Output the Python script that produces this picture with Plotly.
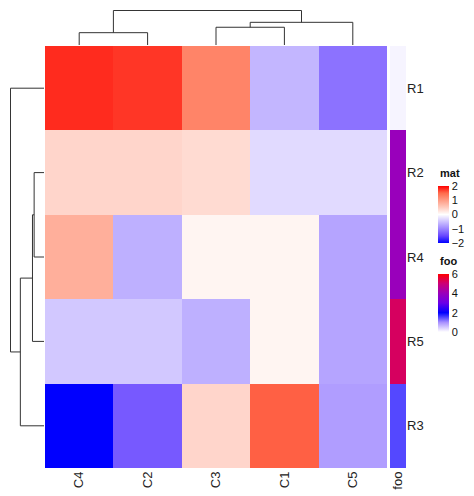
import plotly.graph_objects as go

# heatmap data (rows/cols in clustered order)
row_labels = ["R1", "R2", "R4", "R5", "R3"]
col_labels = ["C4", "C2", "C3", "C1", "C5"]
mat = [
    [1.8, 1.75, 1.25, -0.6, -1.15],
    [0.4, 0.4, 0.35, -0.3, -0.3],
    [0.8, -0.65, 0.1, 0.1, -0.75],
    [-0.45, -0.45, -0.65, 0.1, -0.75],
    [-2.0, -1.35, 0.4, 1.55, -0.8],
]
foo = [0.1, 4.0, 4.0, 5.2, 1.5]

# dendrogram merges: (left pos, right pos, left height, right height, merge height)
col_merges = [(0, 1, 0, 0, 12.5), (2, 3, 0, 0, 18), (2.5, 4, 18, 0, 23), (0.5, 3.25, 12.5, 23, 35)]
row_merges = [(1, 2, 0, 0, 10), (1.5, 3, 10, 0, 11.7), (2.25, 4, 11.7, 0, 24), (0, 3.125, 0, 24, 34)]

W, H = 474, 496
DX, DY = 5, 4  # page offset compensation


def px(a):
    return (a - DX) / W


def py(b):
    return 1 - (b - DY) / H


hx = [px(42), px(384)]
hy = [py(464), py(42)]

mat_scale = [[0, "#0000FF"], [0.125, "#6746FF"], [0.25, "#9C85FF"], [0.375, "#CDC2FF"],
             [0.5, "#FFFFFF"], [0.625, "#FFCBBE"], [0.75, "#FF9C84"], [0.875, "#FF6B4C"], [1, "#FF0000"]]
foo_scale = [[0, "#FFFFFF"], [1 / 6, "#A890FF"], [2 / 6, "#0000FF"], [3 / 6, "#6A00E8"],
             [4 / 6, "#9900BB"], [5 / 6, "#CC0077"], [1, "#FF0000"]]

cb_font = dict(size=11, color="#111111", family="Liberation Sans")

fig = go.Figure()
fig.add_trace(go.Heatmap(
    z=mat, x=list(range(5)), y=list(range(5)), zmin=-2, zmax=2, colorscale=mat_scale,
    hoverinfo="z",
    colorbar=dict(x=px(435), xanchor="left", y=py(182), yanchor="top",
                  len=57 / H, thickness=11, outlinewidth=0, xpad=0, ypad=0,
                  tickvals=[-2, -1, 0, 1, 2], tickfont=cb_font, ticklen=0),
))
fig.add_trace(go.Heatmap(
    z=[[v] for v in foo], x=[0], y=list(range(5)), zmin=0, zmax=6, colorscale=foo_scale,
    xaxis="x2", yaxis="y2",
    colorbar=dict(x=px(435), xanchor="left", y=py(270), yanchor="top",
                  len=58 / H, thickness=11, outlinewidth=0, xpad=0, ypad=0,
                  tickvals=[0, 2, 4, 6], tickfont=cb_font, ticklen=0),
))

for a, b, ha, hb, h in col_merges:
    fig.add_trace(go.Scatter(x=[a, a, b, b], y=[ha, h, h, hb], mode="lines",
                             line=dict(color="#333333", width=1), xaxis="x3", yaxis="y3",
                             showlegend=False, hoverinfo="skip"))
for a, b, ha, hb, h in row_merges:
    fig.add_trace(go.Scatter(x=[ha, h, h, hb], y=[a, a, b, b], mode="lines",
                             line=dict(color="#333333", width=1), xaxis="x4", yaxis="y4",
                             showlegend=False, hoverinfo="skip"))

# legend titles
for name, top in [("mat", 161), ("foo", 249)]:
    fig.add_annotation(text="<b>%s</b>" % name, x=px(435), y=py(top), xref="paper", yref="paper",
                       xanchor="left", yanchor="top", showarrow=False, font=cb_font)

tick = dict(size=13, color="#222222", family="Liberation Sans")
fig.update_layout(
    width=W, height=H, margin=dict(l=0, r=0, t=0, b=0, autoexpand=False),
    paper_bgcolor="white", plot_bgcolor="white", showlegend=False,
    xaxis=dict(domain=hx, range=[-0.5, 4.5], tickvals=list(range(5)), ticktext=col_labels,
               tickangle=-90, tickfont=tick, showgrid=False, zeroline=False, ticks="", automargin=False),
    yaxis=dict(domain=hy, range=[4.5, -0.5], showticklabels=False, showgrid=False, zeroline=False),
    xaxis2=dict(domain=[px(387), px(403)], range=[-0.5, 0.5], tickvals=[0], ticktext=["foo"],
                tickangle=-90, tickfont=tick, showgrid=False, zeroline=False, anchor="y2", automargin=False),
    yaxis2=dict(domain=hy, range=[4.5, -0.5], tickvals=list(range(5)), ticktext=row_labels,
                side="right", anchor="x2", tickfont=tick, showgrid=False, zeroline=False, ticks="",
                automargin=False),
    xaxis3=dict(domain=hx, range=[-0.5, 4.5], visible=False, anchor="y3"),
    yaxis3=dict(domain=[py(41), py(6)], range=[0, 35.5], visible=False, anchor="x3"),
    xaxis4=dict(domain=[px(7), px(41)], range=[34.5, 0], visible=False, anchor="y4"),
    yaxis4=dict(domain=hy, range=[4.5, -0.5], visible=False, anchor="x4"),
)
fig.write_html("out.html")
